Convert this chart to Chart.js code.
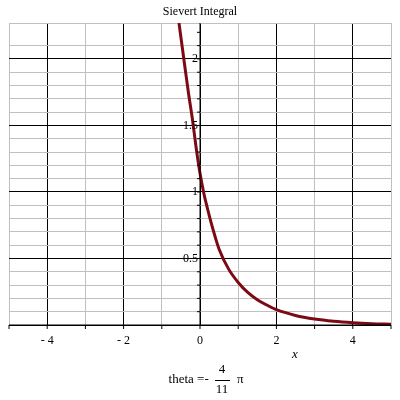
<!DOCTYPE html>
<html><head><script src="https://cdn.jsdelivr.net/npm/chart.js@4"></script>
<style>body{margin:0;background:#fff}#c{width:400px;height:400px}</style></head>
<body><div id="c"><canvas id="cv" width="400" height="400"></canvas></div>
<script>
const xs=[-0.55,-0.4,-0.3,-0.2,-0.1,0,0.1,0.2,0.3,0.4,0.5,0.75,1,1.25,1.5,1.75,2,2.5,3,3.5,4,4.5,5];
const ys=[2.27,1.95,1.74,1.55,1.33,1.14,0.99,0.87,0.76,0.66,0.57,0.42,0.32,0.245,0.19,0.15,0.115,0.072,0.045,0.028,0.017,0.010,0.006];
const xTickLabels=[-4,-2,0,2,4];
const yTickLabels=[0.5,1,1.5,2];
const serif='"Liberation Serif", "DejaVu Serif", serif';
const textPlugin={id:'txt',afterDraw(ch){
  const c=ch.ctx,xS=ch.scales.x,yS=ch.scales.y;
  const x0=xS.getPixelForValue(0),y0=yS.getPixelForValue(0);
  c.save();c.strokeStyle='#000';c.lineWidth=1;
  c.beginPath();c.moveTo(x0,ch.chartArea.top);c.lineTo(x0,ch.chartArea.bottom);
  c.moveTo(ch.chartArea.left,y0);c.lineTo(ch.chartArea.right,y0);
  for(let v=-5;v<=5;v++){const p=xS.getPixelForValue(v);c.moveTo(p,y0);c.lineTo(p,y0+4);}
  for(let v=0.1;v<2.27;v+=0.1){const p=yS.getPixelForValue(v);c.moveTo(x0,p);c.lineTo(x0-3,p);}
  c.stroke();
  c.font='12px '+serif;c.fillStyle='#000';c.textAlign='center';c.textBaseline='middle';
  xTickLabels.forEach(v=>c.fillText(v<0?'- '+(-v):String(v),xS.getPixelForValue(v),y0+16));
  c.textAlign='right';
  yTickLabels.forEach(v=>c.fillText(String(v),x0-2,yS.getPixelForValue(v)));
  c.textAlign='center';c.fillText('Sievert Integral',200,12);
  c.font='italic 13px '+serif;c.fillText('x',295,355);
  c.font='13px '+serif;c.textAlign='right';c.fillText('theta =- ',212,380);
  c.textAlign='center';c.fillText('4',222,370);c.fillText('11',222,390);
  c.beginPath();c.moveTo(215,380.5);c.lineTo(230,380.5);c.stroke();
  c.textAlign='left';c.fillText('\u03c0',237,380);
  c.restore();}};
new Chart(document.getElementById('cv'),{type:'scatter',
 data:{datasets:[{data:xs.map((x,i)=>({x,y:ys[i]})),showLine:true,borderColor:'#7b0a14',borderWidth:3,pointRadius:0,tension:0.4,cubicInterpolationMode:'monotone'}]},
 options:{responsive:false,animation:false,events:[],layout:{padding:{left:9,right:9,top:23,bottom:75}},
  plugins:{legend:{display:false},tooltip:{enabled:false}},
  scales:{
   x:{type:'linear',min:-5,max:5,ticks:{display:false,stepSize:1},border:{display:false},
      grid:{drawTicks:false,color:c=>(c.tick&&Math.round(c.tick.value)%2===0)?'#000':'#c0c0c0'}},
   y:{type:'linear',min:0,max:2.27,ticks:{display:false,stepSize:0.1},border:{display:false},
      grid:{drawTicks:false,color:c=>(c.tick&&Math.abs(c.tick.value*2-Math.round(c.tick.value*2))<1e-6)?'#000':'#c0c0c0'}}
  }},plugins:[textPlugin]});
</script></body></html>
